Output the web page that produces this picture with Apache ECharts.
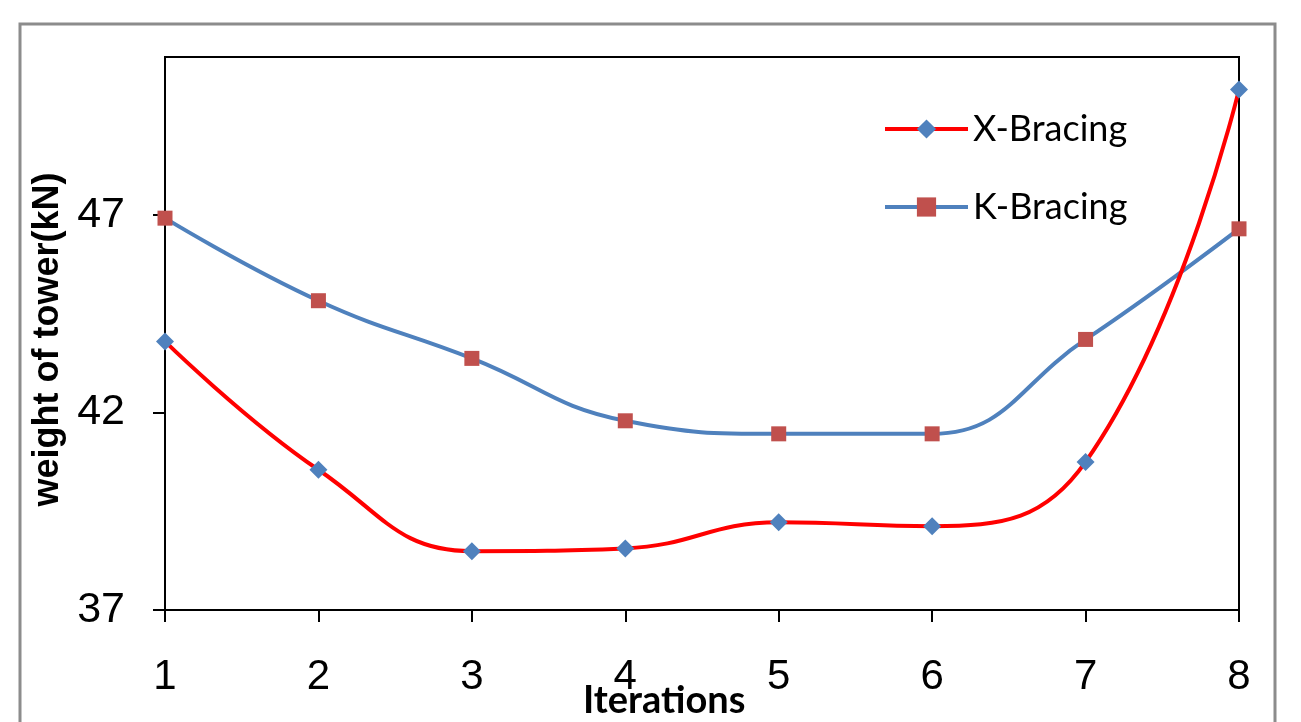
<!DOCTYPE html>
<html>
<head>
<meta charset="utf-8">
<script src="https://cdn.jsdelivr.net/npm/echarts@6/dist/echarts.min.js"></script>
<style>
  html, body { margin: 0; padding: 0; background: #fff; }
  #chart { width: 1301px; height: 722px; }
</style>
</head>
<body>
<div id="chart"></div>
<script>
// iterations on the x axis
const iterations = ["1", "2", "3", "4", "5", "6", "7", "8"];
// weight of tower (kN)
const xBracing = [43.8, 40.55, 38.49, 38.56, 39.22, 39.12, 40.75, 50.18];
const kBracing = [46.92, 44.83, 43.37, 41.79, 41.46, 41.46, 43.85, 46.65];
const yTicks = [37, 42, 47];

let chart = echarts.init(document.getElementById("chart"));
chart.setOption({
  animation: false,
  graphic: [
    {
      type: "rect",
      shape: { x: 20, y: 24, width: 1255, height: 720 },
      style: { fill: "none", stroke: "#8c8c8c", lineWidth: 3 },
      silent: true,
    },
  ],
  title: {
    text: "Iterations",
    left: 578,
    top: 677,
    textStyle: {
      fontFamily: "Lato",
      fontWeight: "bold",
      fontSize: 38,
      color: "#000",
    },
  },
  legend: {
    orient: "vertical",
    left: 878,
    top: 103,
    itemWidth: 83,
    itemHeight: 24,
    itemGap: 36,
    lineStyle: { width: 4 },
    textStyle: {
      fontFamily: "Lato",
      fontSize: 36,
      lineHeight: 42,
      color: "#000",
    },
    data: ["X-Bracing", "K-Bracing"],
  },
  grid: {
    left: 165,
    right: 62,
    top: 57,
    bottom: 112,
    show: true,
    borderColor: "#000",
    borderWidth: 2,
  },
  xAxis: {
    type: "category",
    data: iterations,
    boundaryGap: false,
    axisLine: { lineStyle: { color: "#000", width: 2 } },
    axisTick: { show: true, length: 12, lineStyle: { color: "#000", width: 2 } },
    axisLabel: {
      margin: 46,
      fontFamily: "Liberation Sans",
      fontSize: 42,
      color: "#000",
    },
    splitLine: { show: false },
  },
  yAxis: {
    type: "value",
    min: 37,
    max: 51,
    interval: 5,
    name: "weight of tower(kN)",
    nameLocation: "middle",
    nameGap: 93,
    nameTextStyle: {
      fontFamily: "Liberation Sans",
      fontWeight: "bold",
      fontSize: 36,
      color: "#000",
      padding: [0, 12, 0, 0],
    },
    axisLine: { show: true, lineStyle: { color: "#000", width: 2 } },
    axisTick: {
      show: true,
      length: 12,
      customValues: yTicks,
      lineStyle: { color: "#000", width: 2 },
    },
    axisLabel: {
      margin: 40,
      showMaxLabel: false,
      fontFamily: "Liberation Sans",
      fontSize: 43,
      color: "#000",
    },
    splitLine: { show: false },
  },
  series: [
    {
      name: "X-Bracing",
      type: "line",
      data: xBracing,
      smooth: 0.45,
      symbol: "diamond",
      symbolSize: 18,
      itemStyle: { color: "#4f81bd" },
      lineStyle: { color: "#ff0000", width: 4 },
      z: 3,
    },
    {
      name: "K-Bracing",
      type: "line",
      data: kBracing,
      smooth: 0.45,
      symbol: "rect",
      symbolSize: 15,
      itemStyle: { color: "#c0504d" },
      lineStyle: { color: "#4f81bd", width: 4 },
      z: 2,
    },
  ],
});
</script>
</body>
</html>
